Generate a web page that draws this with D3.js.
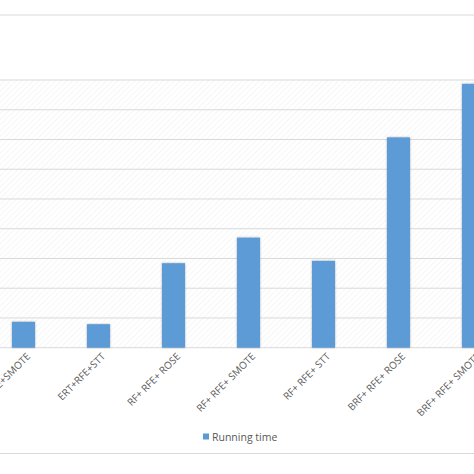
<!doctype html>
<html lang="en">

<head>
    <meta charset="utf-8">
    <title>Running time bar chart</title>
    <script src="https://cdn.jsdelivr.net/npm/d3@7"></script>
    <style>
        body {
            margin: 0;
            background: #ffffff;
        }

        svg {
            display: block;
            font-family: "Open Sans", "Liberation Sans", sans-serif;
        }
    </style>
</head>

<body>
    <svg></svg>
    <script>
        var width = 474;
        var height = 474;

        // data (units = one gridline step)
        var categories = ["ERT+RFE+SMOTE", "ERT+RFE+STT", "RF+ RFE+ ROSE", "RF+ RFE+ SMOTE",
            "RF+ RFE+ STT", "BRF+ RFE+ ROSE", "BRF+ RFE+ SMOTE"];
        var runningTime = [0.87, 0.79, 2.84, 3.70, 2.92, 7.07, 8.87];
        var gridTicks = [0, 1, 2, 3, 4, 5, 6, 7, 8, 9];
        var seriesName = "Running time";

        var barColor = "#5b9bd5";
        var gridColor = "#d9d9d9";
        var textColor = "#595959";

        var svg = d3.select('svg').attr('width', width).attr('height', height);

        var defs = svg.append('defs');

        // faint diagonal hatch behind the plot
        var hatch = defs.append('pattern')
            .attr('id', 'hatch')
            .attr('width', 4)
            .attr('height', 4)
            .attr('patternUnits', 'userSpaceOnUse')
            .attr('patternTransform', 'rotate(45)');
        hatch.append('line')
            .attr('x1', 0).attr('y1', 0)
            .attr('x2', 0).attr('y2', 4)
            .attr('stroke', '#f0f0f0')
            .attr('stroke-width', 1.2);

        var shadow = defs.append('filter')
            .attr('id', 'shadow')
            .attr('x', '-30%').attr('y', '-5%')
            .attr('width', '160%').attr('height', '110%');
        shadow.append('feDropShadow')
            .attr('dx', 0).attr('dy', 0)
            .attr('stdDeviation', 1.2)
            .attr('flood-color', '#555')
            .attr('flood-opacity', 0.45);

        // plot is wider than the window, so it runs off both edges
        var xScale = d3.scaleBand()
            .domain(categories)
            .range([-14, 511])
            .paddingInner(0.693)
            .paddingOuter(0.3465);

        var yScale = d3.scaleLinear()
            .domain([0, 9])
            .range([347.7, 80]);

        // outer frame lines
        svg.append('line')
            .attr('x1', 0).attr('x2', width)
            .attr('y1', 15).attr('y2', 15)
            .attr('stroke', gridColor)
            .attr('stroke-width', 1.2);
        svg.append('line')
            .attr('x1', 0).attr('x2', width)
            .attr('y1', 453.5).attr('y2', 453.5)
            .attr('stroke', gridColor)
            .attr('stroke-width', 1.2);

        svg.append('rect')
            .attr('x', 0)
            .attr('y', yScale(9))
            .attr('width', width)
            .attr('height', yScale(0) - yScale(9))
            .attr('fill', 'url(#hatch)');

        //gridlines
        svg.append('g')
            .selectAll('line')
            .data(gridTicks)
            .enter()
            .append('line')
            .attr('x1', 0)
            .attr('x2', width)
            .attr('y1', function (d) { return yScale(d); })
            .attr('y2', function (d) { return yScale(d); })
            .attr('stroke', gridColor)
            .attr('stroke-width', 1);

        //bars
        svg.append('g')
            .selectAll('rect')
            .data(runningTime)
            .enter()
            .append('rect')
            .attr('x', function (d, i) { return xScale(categories[i]); })
            .attr('y', function (d) { return yScale(d); })
            .attr('width', xScale.bandwidth())
            .attr('height', function (d) { return yScale(0) - yScale(d); })
            .attr('fill', barColor)
            .attr('filter', 'url(#shadow)');

        //category labels, rotated
        svg.append('g')
            .selectAll('text')
            .data(categories)
            .enter()
            .append('text')
            .attr('transform', function (d) {
                var cx = xScale(d) + xScale.bandwidth() / 2 + 5;
                return 'translate(' + cx + ',' + (yScale(0) + 7) + ') rotate(-45)';
            })
            .attr('text-anchor', 'end')
            .attr('dy', '0.35em')
            .attr('font-size', 10)
            .attr('fill', textColor)
            .text(function (d) { return d; });

        //legend
        var legend = svg.append('g').attr('transform', 'translate(203, 437)');
        legend.append('rect')
            .attr('x', 0).attr('y', -3.5)
            .attr('width', 6).attr('height', 6)
            .attr('fill', barColor);
        legend.append('text')
            .attr('x', 9)
            .attr('dy', '0.35em')
            .attr('font-size', 10.5)
            .attr('fill', textColor)
            .text(seriesName);
    </script>

</body>

</html>
